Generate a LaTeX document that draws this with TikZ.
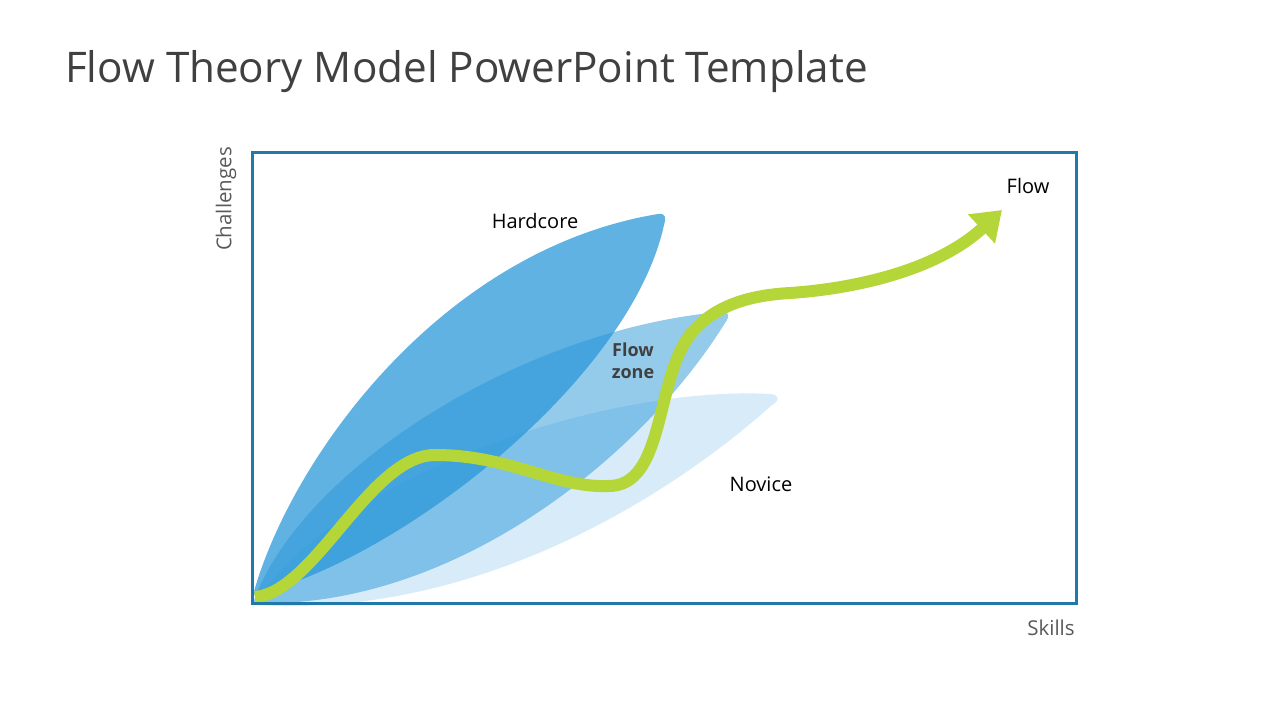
\documentclass[tikz,border=0pt]{standalone}
\usepackage{fontspec}
\setmainfont{Open Sans}
\usetikzlibrary{arrows.meta}
\definecolor{titlegray}{RGB}{64,64,64}
\definecolor{axisgray}{RGB}{89,89,89}
\definecolor{frameblue}{RGB}{33,120,170}
\definecolor{leafblue}{RGB}{41,151,216}
\definecolor{flowgreen}{RGB}{181,214,56}
\tikzset{
  leaf/.style={fill=leafblue,draw=none},
  leafhard/.style={leaf,fill opacity=0.74},
  leafzone/.style={leaf,fill opacity=0.5},
  leafnovice/.style={leaf,fill opacity=0.19},
  chartframe/.style={draw=frameblue,line width=3pt},
  flowpath/.style={draw=flowgreen,line width=12pt,-{Triangle[length=28pt,width=38pt]}},
  zonelabel/.style={font=\fontsize{20}{24}\selectfont,text=black,inner sep=0pt},
  zonebold/.style={font=\fontsize{18}{22}\selectfont\bfseries,text=titlegray,align=center,inner sep=0pt},
  axislabel/.style={font=\fontsize{20.5}{24}\selectfont,text=axisgray,inner sep=0pt},
  slidetitle/.style={font=\fontsize{42.2}{48}\selectfont,text=titlegray,inner sep=0pt,anchor=base west}
}
\begin{document}
\begin{tikzpicture}[x=1pt,y=-1pt]
  \useasboundingbox (0,0) rectangle (1280,720);
  \node[slidetitle] (title) at (65,82) {Flow Theory Model PowerPoint Template};

  % the three zones
  \path[leafnovice] (255,605) .. controls (330,480) and (600,385) .. (770,394)
    .. controls (780,395) and (780,400) .. (772,405)
    .. controls (700,470) and (500,620) .. (255,605) -- cycle;
  \path[leafzone] (253,603) .. controls (300,470) and (520,330) .. (720,312)
    .. controls (730,311) and (730,316) .. (725,323)
    .. controls (640,460) and (450,610) .. (253,603) -- cycle;
  \path[leafhard] (253,595) .. controls (290,460) and (440,250) .. (658,214)
    .. controls (666,213) and (666,218) .. (664,225)
    .. controls (630,380) and (400,560) .. (253,595) -- cycle;

  \node[zonelabel] (hard) at (535,221) {Hardcore};
  \node[zonebold] (zone) at (633,361) {Flow\\zone};
  \node[zonelabel] (novice) at (761,484) {Novice};
  \node[zonelabel] (flow) at (1028,186) {Flow};

  % flow channel
  \coordinate (start) at (255,597);
  \coordinate (peak) at (435,455);
  \coordinate (dip) at (608,486);
  \coordinate (climb) at (690,335);
  \coordinate (knee) at (790,293);
  \coordinate (flowtip) at (1002,210);
  \draw[flowpath] (start) .. controls (315,592) and (370,455) .. (peak)
    .. controls (510,455) and (555,488) .. (dip)
    .. controls (665,487) and (655,380) .. (climb)
    .. controls (715,303) and (755,295) .. (knee)
    .. controls (850,289) and (935,272) .. (flowtip);

  \draw[chartframe] (252,152) rectangle (1076,603);
  \node[axislabel,rotate=90] (yaxis) at (226,199) {Challenges};
  \node[axislabel] (xaxis) at (1051,628) {Skills};
\end{tikzpicture}
\end{document}
